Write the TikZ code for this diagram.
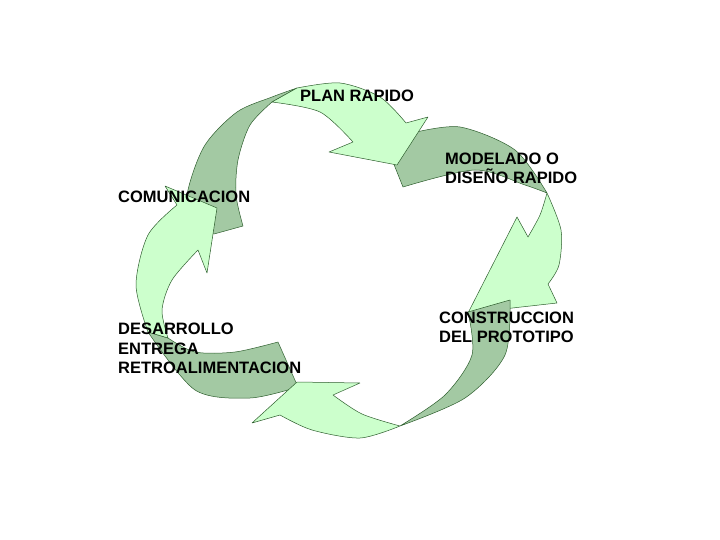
\documentclass[tikz,border=0pt]{standalone}
\usepackage{fontspec}
\setmainfont{Liberation Sans}
\begin{document}
\begin{tikzpicture}[x=1pt,y=-1pt,
  lightpart/.style={fill=lgreen,draw=edgegreen,line width=0.5pt,line join=round},
  darkpart/.style={fill=dgreen,draw=edgegreen,line width=0.5pt,line join=round},
  lbl/.style={anchor=west,inner sep=0pt,font=\fontsize{16.5}{19.5}\selectfont\bfseries,text=black,align=left}]
\definecolor{lgreen}{HTML}{CCFFCC}
\definecolor{dgreen}{HTML}{A3C9A3}
\definecolor{edgegreen}{HTML}{2E5E2E}
\useasboundingbox (0,0) rectangle (720,540);
\fill[white] (0,0) rectangle (720,540);
% dark tails
\path[darkpart] plot[smooth] coordinates {(186,232)(188,190)(205,145)(237,112)(272,97)(297,88)} -- (272,102)
  -- plot[smooth] coordinates {(272,102)(250,125)(238,160)(236,195)(243,226)} -- (214,234) -- cycle;
\path[darkpart] (393,162) -- plot[smooth] coordinates {(412,133)(460,127)(515,150)(547,193)}
  -- plot[smooth] coordinates {(547,193)(525,185)(475,170)(403,187)} -- cycle;
\path[darkpart] (278,342) -- (298,387) -- plot[smooth] coordinates {(298,387)(250,398)(195,390)(148,332)}
  -- (168,338) -- plot[smooth] coordinates {(168,338)(195,352)(235,352)(278,342)} -- cycle;
% light heads
\path[lightpart] plot[smooth] coordinates {(297,88)(340,83)(380,97)(406,123)} -- (428,117) -- (397,165)
  -- (329,152) -- (353,142) -- plot[smooth] coordinates {(353,142)(320,112)(272,102)} -- cycle;
\path[lightpart] plot[smooth] coordinates {(148,332)(136,285)(148,235)(177,205)} -- (165,186) -- (217,208)
  -- (207,273) -- (198,250) -- plot[smooth] coordinates {(198,250)(172,280)(162,310)(168,338)} -- cycle;
\path[lightpart] plot[smooth] coordinates {(547,193)(561,230)(559,265)(548,284)} -- (557,303) -- (468,313)
  -- (517,217) -- (528,237) -- plot[smooth] coordinates {(528,237)(540,215)(547,193)} -- cycle;
\path[darkpart] (468,312) -- (510,300) -- plot[smooth] coordinates {(510,300)(505,355)(465,398)(400,426)}
  -- plot[smooth] coordinates {(400,426)(445,395)(472,355)(468,312)} -- cycle;
\path[lightpart] plot[smooth] coordinates {(400,426)(360,438)(312,430)(280,415)} -- (252,423) -- (297,382)
  -- (360,383) -- (333,395) -- plot[smooth] coordinates {(333,395)(362,414)(400,426)} -- cycle;
% labels
\node[lbl] (plan) at (300,96) {PLAN RAPIDO};
\node[lbl] (mod) at (445,168.5) {MODELADO O\\DISEÑO RAPIDO};
\node[lbl] (com) at (118,197) {COMUNICACION};
\node[lbl] (con) at (439,327.5) {CONSTRUCCION\\DEL PROTOTIPO};
\node[lbl] (des) at (118,348.5) {DESARROLLO\\ENTREGA\\RETROALIMENTACION};
\end{tikzpicture}
\end{document}
